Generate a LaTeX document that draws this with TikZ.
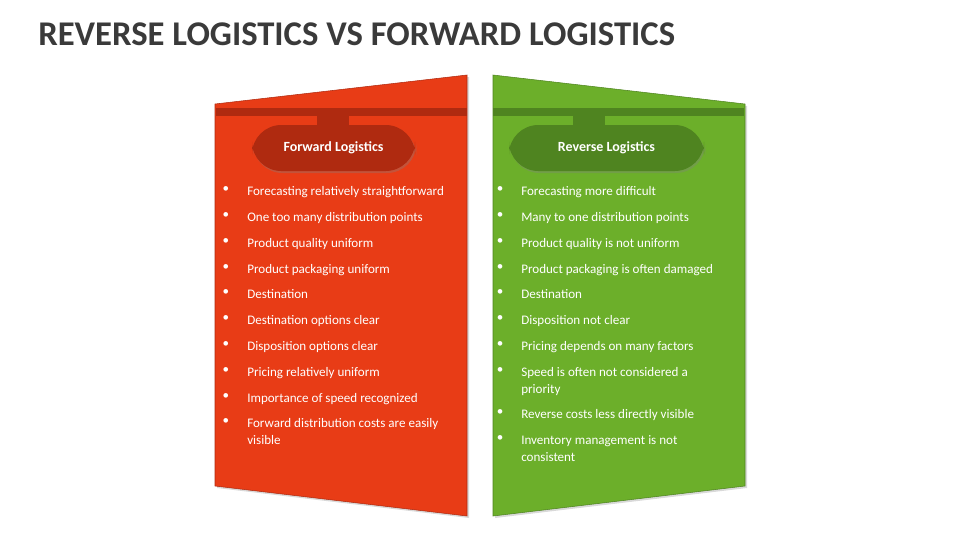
\documentclass[tikz,border=0pt]{standalone}
\usepackage{fontspec}
\setmainfont{Carlito}
\usetikzlibrary{shadows}
\definecolor{fred}{HTML}{E83C16}
\definecolor{dred}{HTML}{AF2A10}
\definecolor{fgrn}{HTML}{6CAF2A}
\definecolor{dgrn}{HTML}{4F8420}
\definecolor{ttl}{HTML}{3A3A3A}
\begin{document}
\begin{tikzpicture}[x=0.75pt,y=-0.75pt,
  pill/.style={rounded corners=22pt,draw=none,drop shadow={opacity=0.35,shadow xshift=1pt,shadow yshift=-1.5pt}},
  pilltxt/.style={text=white,font=\bfseries\fontsize{10.5}{12}\selectfont},
  item/.style={anchor=north west,inner sep=0pt,text=white,align=left,font=\fontsize{9.8}{12.8}\selectfont},
  dot/.style={anchor=north,inner sep=0pt,text=white,font=\fontsize{9.8}{12.8}\selectfont}]
\useasboundingbox (0,0) rectangle (960,540);
\node[anchor=west,inner sep=0pt,text=ttl,font=\bfseries\fontsize{26}{30}\selectfont] (title) at (38,34) {REVERSE LOGISTICS VS FORWARD LOGISTICS};
% panels
\fill[fred,draw=dred,drop shadow={opacity=0.3,shadow xshift=1.5pt,shadow yshift=-1.5pt}] (215,104) -- (467,75) -- (467,516) -- (215,486) -- cycle;
\fill[fgrn,draw=dgrn,drop shadow={opacity=0.3,shadow xshift=1.5pt,shadow yshift=-1.5pt}] (493,75) -- (745,104) -- (745,486) -- (493,516) -- cycle;
\fill[dred] (216,108) rectangle (467,116);
\fill[dred] (317,115) rectangle (349,126);
\fill[dgrn] (493,108) rectangle (744,116);
\fill[dgrn] (573,115) rectangle (605,126);
\fill[dred,pill] (252,125) rectangle (415,171);
\fill[dgrn,pill] (509,125) rectangle (704,171);
\node[pilltxt] (fl) at (333.5,148) {Forward Logistics};
\node[pilltxt] (rl) at (606.5,148) {Reverse Logistics};
% left items
\foreach \y/\t in {186/Forecasting relatively straightforward,212/One too many distribution points,238/Product quality uniform,264/Product packaging uniform,289/Destination / routing clear,315/Destination options clear,341/Disposition options clear,367/Pricing relatively uniform,393/Importance of speed recognized,418/{Forward distribution costs are easily\\visible}}{
  \node[dot] at (226,\y) {•};
  \node[item] at (247,\y) {\t};
}
\foreach \y/\t in {186/Forecasting more difficult,212/Many to one distribution points,238/Product quality is not uniform,264/Product packaging is often damaged,289/Destination / routing unclear,315/Disposition not clear,341/Pricing depends on many factors,367/{Speed is often not considered a\\priority},409/Reverse costs less directly visible,435/{Inventory management is not\\consistent}}{
  \node[dot] at (500,\y) {•};
  \node[item] at (521,\y) {\t};
}
\end{tikzpicture}
\end{document}
